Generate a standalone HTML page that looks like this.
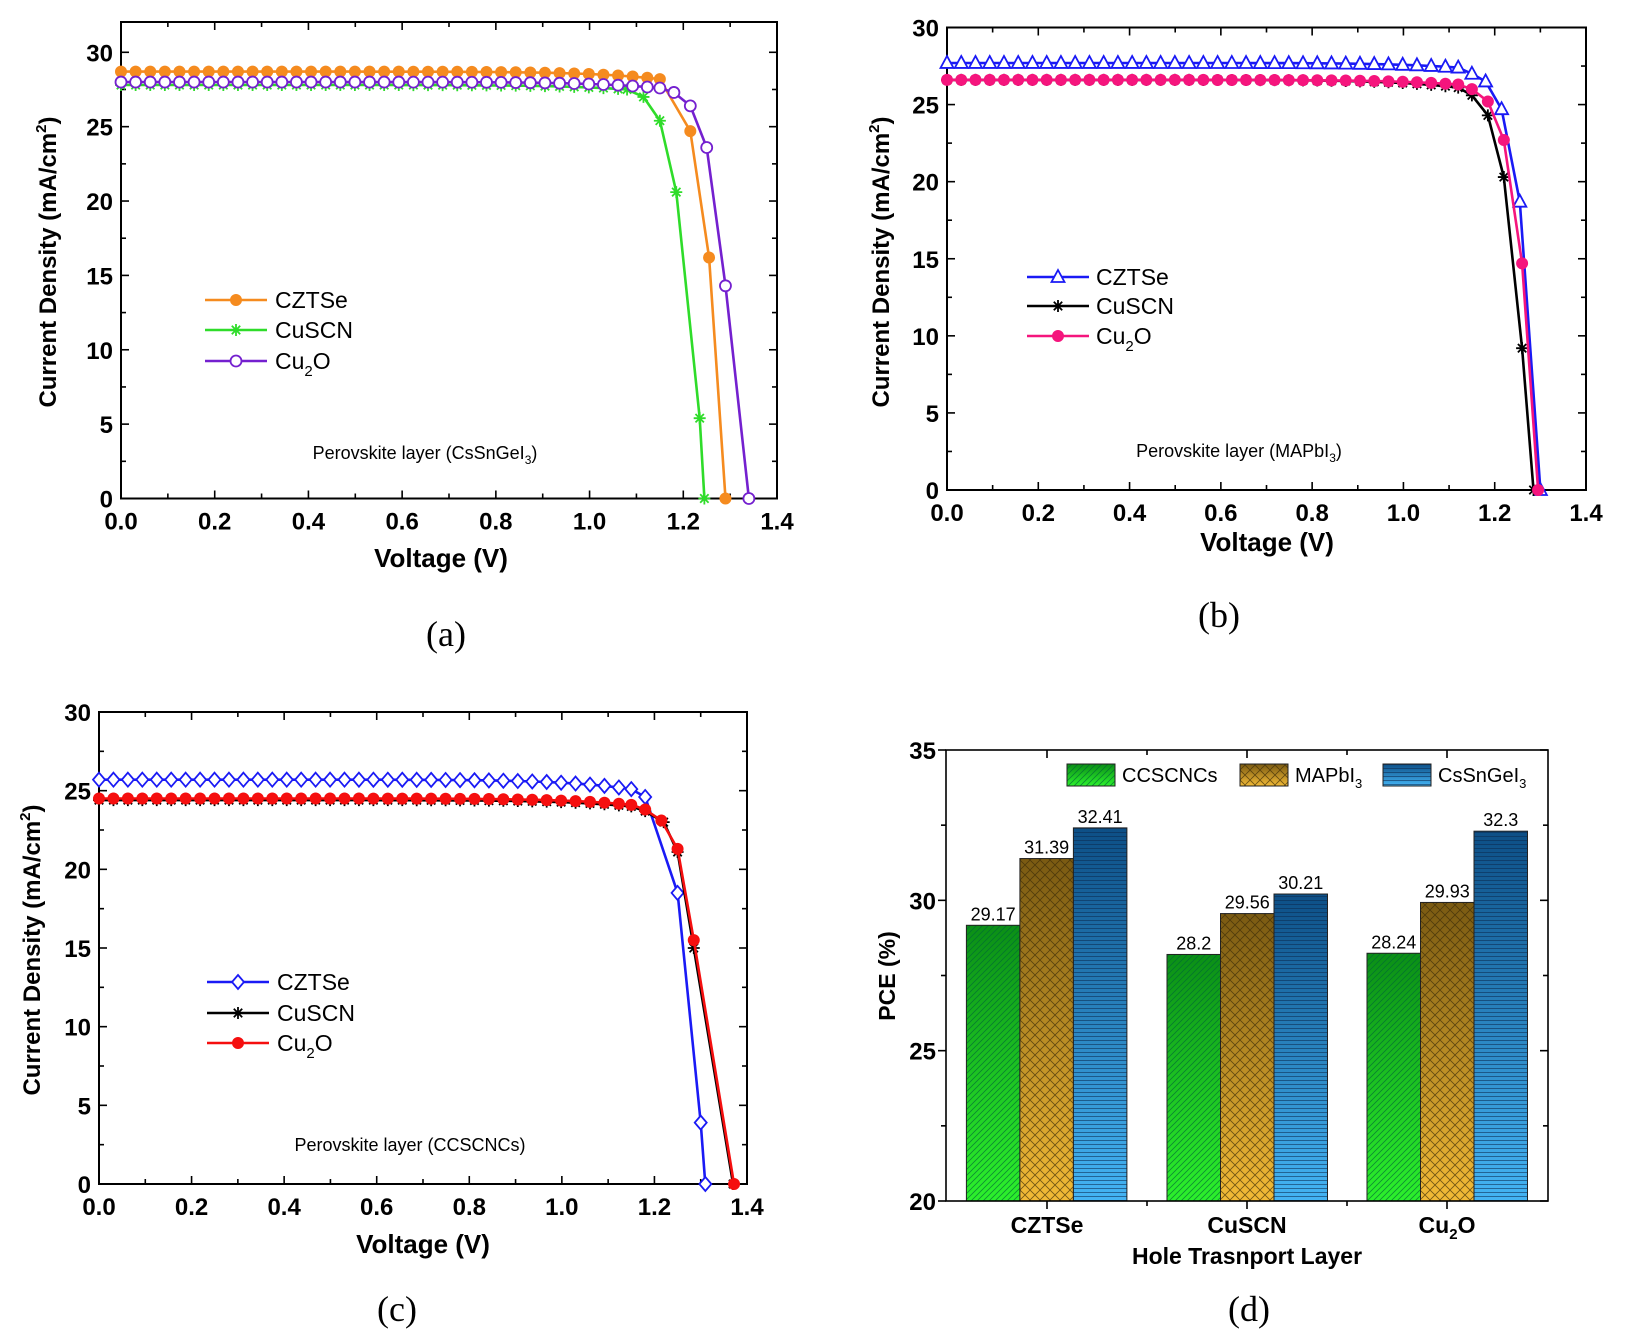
<!DOCTYPE html>
<html><head><meta charset="utf-8">
<style>
html,body{margin:0;padding:0;background:#fff;}
svg{display:block;}
text{font-family:"Liberation Sans",sans-serif;}
.tk{font-size:24px;font-weight:bold;}
.ti{font-size:26px;font-weight:bold;}
.lg{font-size:23px;}
.an{font-size:18px;}
.pl{font-family:"Liberation Serif",serif;font-size:36px;}
</style></head>
<body>
<svg id="s" width="1628" height="1342" viewBox="0 0 1628 1342" xmlns="http://www.w3.org/2000/svg">
<defs>
<linearGradient id="gG" x1="0" y1="0" x2="0" y2="1"><stop offset="0" stop-color="#0b8f16"/><stop offset="1" stop-color="#2cf02c"/></linearGradient>
<linearGradient id="gB" x1="0" y1="0" x2="0" y2="1"><stop offset="0" stop-color="#7a5a12"/><stop offset="1" stop-color="#f2ba36"/></linearGradient>
<linearGradient id="gL" x1="0" y1="0" x2="0" y2="1"><stop offset="0" stop-color="#0d4f86"/><stop offset="1" stop-color="#44b4f4"/></linearGradient>
<pattern id="pD" width="6" height="6" patternUnits="userSpaceOnUse"><path d="M0,6 L6,0 M-1,1 L1,-1 M5,7 L7,5" stroke="#063" stroke-width="0.8" opacity="0.7"/></pattern>
<pattern id="pX" width="10" height="10" patternUnits="userSpaceOnUse"><path d="M0,0 L10,10 M10,0 L0,10" stroke="#3a2a05" stroke-width="0.8" opacity="0.7"/></pattern>
<pattern id="pH" width="6" height="4" patternUnits="userSpaceOnUse"><path d="M0,0.5 L6,0.5" stroke="#0a2a50" stroke-width="0.8" opacity="0.7"/></pattern>
</defs>
<g id="g"></g>
<text class="pl" x="446" y="646" text-anchor="middle">(a)</text>
<text class="pl" x="1219" y="627" text-anchor="middle">(b)</text>
<text class="pl" x="397" y="1321" text-anchor="middle">(c)</text>
<text class="pl" x="1249" y="1321" text-anchor="middle">(d)</text>
</svg>
<script>
var G=document.getElementById('g'),h='';
function panel(P){
 var L=P.l,R=P.r,T=P.top,y0=P.y0,y30=P.y30;
 var X=function(v){return L+(R-L)*v/1.4;},Y=function(j){return y0+(y30-y0)*j/30;};
 h+='<rect x="'+L+'" y="'+T+'" width="'+(R-L)+'" height="'+(y0-T)+'" fill="none" stroke="#000" stroke-width="2"/>';
 for(var i=0;i<=14;i++){var x=X(i*0.1),len=i%2?5:8;
  h+='<line x1="'+x+'" y1="'+y0+'" x2="'+x+'" y2="'+(y0-len)+'" stroke="#000" stroke-width="1.6"/>';
  h+='<line x1="'+x+'" y1="'+T+'" x2="'+x+'" y2="'+(T+len)+'" stroke="#000" stroke-width="1.6"/>';
  if(i%2==0) h+='<text class="tk" x="'+x+'" y="'+(y0+31)+'" text-anchor="middle">'+(i/10).toFixed(1)+'</text>';}
 for(var j=0;j<=30;j+=2.5){var y=Y(j),len=(j%5)?5:8;if(y<T-1)continue;
  h+='<line x1="'+L+'" y1="'+y+'" x2="'+(L+len)+'" y2="'+y+'" stroke="#000" stroke-width="1.6"/>';
  h+='<line x1="'+R+'" y1="'+y+'" x2="'+(R-len)+'" y2="'+y+'" stroke="#000" stroke-width="1.6"/>';
  if(j%5==0) h+='<text class="tk" x="'+(L-8)+'" y="'+(y+9)+'" text-anchor="end">'+j+'</text>';}
 h+='<text class="ti" x="'+P.xt[0]+'" y="'+P.xt[1]+'" text-anchor="middle">Voltage (V)</text>';
 h+='<text class="ti" style="font-size:24px" transform="translate('+P.yt[0]+','+P.yt[1]+') rotate(-90)" text-anchor="middle">Current Density (mA/cm<tspan dy="-10" font-size="15">2</tspan><tspan dy="10">)</tspan></text>';
 h+='<text class="an" x="'+P.an[0]+'" y="'+P.an[1]+'" text-anchor="middle">'+P.ant+'</text>';
 P.s.forEach(function(s,k){
  var tail=s.t,v1=tail[0][0],j1=tail[0][1],pts=[];
  for(var v=0;v<v1-0.018;v+=0.0312){pts.push([v,s.j-(s.j-j1)*Math.pow(v/v1,8)]);}
  pts=pts.concat(tail);
  var d=pts.map(function(p,i){return (i?'L':'M')+X(p[0]).toFixed(1)+','+Y(p[1]).toFixed(1);}).join('');
  h+='<path d="'+d+'" fill="none" stroke="'+s.c+'" stroke-width="2.6"/>';
  pts.forEach(function(p){h+=marker(s.m,X(p[0]),Y(p[1]),s.c);});
  var ly=P.lg[1][k];
  h+='<line x1="'+P.lg[0]+'" y1="'+ly+'" x2="'+(P.lg[0]+62)+'" y2="'+ly+'" stroke="'+s.c+'" stroke-width="2.6"/>'+marker(s.m,P.lg[0]+31,ly,s.c);
  h+='<text class="lg" x="'+P.lg[2]+'" y="'+(ly+8)+'">'+s.n+'</text>';
 });
}
function marker(m,x,y,c){
 if(m=='fc')return '<circle cx="'+x+'" cy="'+y+'" r="5.5" fill="'+c+'" stroke="'+c+'" stroke-width="1"/>';
 if(m=='oc')return '<circle cx="'+x+'" cy="'+y+'" r="5.5" fill="#fff" stroke="'+c+'" stroke-width="1.8"/>';
 if(m=='tr')return '<path d="M'+x+','+(y-7)+'L'+(x+6.5)+','+(y+5)+'L'+(x-6.5)+','+(y+5)+'Z" fill="#fff" stroke="'+c+'" stroke-width="1.8"/>';
 if(m=='di')return '<path d="M'+x+','+(y-7)+'L'+(x+6)+','+y+'L'+x+','+(y+7)+'L'+(x-6)+','+y+'Z" fill="#fff" stroke="'+c+'" stroke-width="1.8"/>';
 var r=6,q=4.2;return '<path d="M'+(x-r)+','+y+'L'+(x+r)+','+y+'M'+x+','+(y-r)+'L'+x+','+(y+r)+'M'+(x-q)+','+(y-q)+'L'+(x+q)+','+(y+q)+'M'+(x-q)+','+(y+q)+'L'+(x+q)+','+(y-q)+'" stroke="'+c+'" stroke-width="1.8"/>';
}
var CU='Cu<tspan dy="7" font-size="15">2</tspan><tspan dy="-7">O</tspan>';
panel({l:121,r:777,top:22,y0:498.5,y30:52.3,xt:[441,567],yt:[56,262],an:[425,459],ant:'Perovskite layer (CsSnGeI<tspan dy="5" font-size="12">3</tspan><tspan dy="-5">)</tspan>',
 lg:[205,[300,330,361],275],
 s:[{n:'CZTSe',j:28.7,c:'#f58b1f',m:'fc',t:[[1.15,28.2],[1.215,24.7],[1.255,16.2],[1.29,0]]},
    {n:'CuSCN',j:27.8,c:'#2fdc2a',m:'as',t:[[1.08,27.5],[1.115,27.0],[1.15,25.4],[1.185,20.6],[1.235,5.4],[1.245,0]]},
    {n:CU,j:28.0,c:'#7420cf',m:'oc',t:[[1.15,27.6],[1.18,27.3],[1.215,26.4],[1.25,23.6],[1.29,14.3],[1.34,0]]}]});
panel({l:947,r:1586,top:27.5,y0:490,y30:27.5,xt:[1267,551],yt:[889,262],an:[1239,457],ant:'Perovskite layer (MAPbI<tspan dy="5" font-size="12">3</tspan><tspan dy="-5">)</tspan>',
 lg:[1027,[277,306,336],1096],
 s:[{n:'CZTSe',j:27.7,c:'#1a1af5',m:'tr',t:[[1.12,27.4],[1.15,27.0],[1.18,26.5],[1.215,24.7],[1.255,18.7],[1.30,0]]},
    {n:'CuSCN',j:26.6,c:'#000',m:'as',t:[[1.12,26.1],[1.15,25.6],[1.185,24.3],[1.22,20.3],[1.26,9.2],[1.285,0]]},
    {n:CU,j:26.6,c:'#f5157d',m:'fc',t:[[1.12,26.3],[1.15,26.0],[1.185,25.2],[1.22,22.7],[1.26,14.7],[1.295,0]]}]});
panel({l:99,r:747,top:712,y0:1184,y30:712,xt:[423,1253],yt:[40,950],an:[410,1151],ant:'Perovskite layer (CCSCNCs)',
 lg:[207,[982,1013,1043],277],
 s:[{n:'CZTSe',j:25.7,c:'#1a1af5',m:'di',t:[[1.15,25.1],[1.18,24.6],[1.25,18.5],[1.30,3.9],[1.31,0]]},
    {n:'CuSCN',j:24.4,c:'#000',m:'as',t:[[1.15,24.0],[1.18,23.7],[1.22,23.0],[1.25,21.1],[1.285,15.0],[1.37,0]]},
    {n:CU,j:24.5,c:'#f50f0f',m:'fc',t:[[1.15,24.1],[1.18,23.8],[1.215,23.1],[1.25,21.3],[1.285,15.5],[1.372,0]]}]});
(function(){
 var L=946,R=1548,T=750,B=1201,Y=function(v){return B+(T-B)*(v-20)/15;};
 var grp=[[966.4,[29.17,31.39,32.41]],[1167,[28.2,29.56,30.21]],[1367,[28.24,29.93,32.3]]],w=53.5;
 var fills=[['gG','pD'],['gB','pX'],['gL','pH']];
 grp.forEach(function(g){g[1].forEach(function(v,k){var x=g[0]+k*w,y=Y(v);
  h+='<rect x="'+x+'" y="'+y+'" width="'+w+'" height="'+(B-y)+'" fill="url(#'+fills[k][0]+')"/>';
  h+='<rect x="'+x+'" y="'+y+'" width="'+w+'" height="'+(B-y)+'" fill="url(#'+fills[k][1]+')" stroke="#222" stroke-width="1"/>';
  h+='<text x="'+(x+w/2)+'" y="'+(y-5)+'" text-anchor="middle" font-size="18">'+v+'</text>';});});
 h+='<rect x="'+L+'" y="'+T+'" width="'+(R-L)+'" height="'+(B-T)+'" fill="none" stroke="#000" stroke-width="1.6"/>';
 for(var v=20;v<=35;v+=2.5){var y=Y(v),len=(v%5)?5:8;
  h+='<line x1="'+L+'" y1="'+y+'" x2="'+(L-len)+'" y2="'+y+'" stroke="#000" stroke-width="1.6"/><line x1="'+R+'" y1="'+y+'" x2="'+(R-len)+'" y2="'+y+'" stroke="#000" stroke-width="1.6"/>';
  if(v%5==0)h+='<text class="tk" x="'+(L-10)+'" y="'+(y+9)+'" text-anchor="end">'+v+'</text>';}
 [1047,1247,1447].forEach(function(x){h+='<line x1="'+x+'" y1="'+B+'" x2="'+x+'" y2="'+(B+8)+'" stroke="#000" stroke-width="1.6"/><line x1="'+x+'" y1="'+T+'" x2="'+x+'" y2="'+(T+8)+'" stroke="#000" stroke-width="1.6"/>';});
 [1147,1347].forEach(function(x){h+='<line x1="'+x+'" y1="'+B+'" x2="'+x+'" y2="'+(B+5)+'" stroke="#000" stroke-width="1.6"/><line x1="'+x+'" y1="'+T+'" x2="'+x+'" y2="'+(T+5)+'" stroke="#000" stroke-width="1.6"/>';});
 h+='<text class="ti" style="font-size:23px" x="1047" y="1233" text-anchor="middle">CZTSe</text><text class="ti" style="font-size:23px" x="1247" y="1233" text-anchor="middle">CuSCN</text><text class="ti" style="font-size:23px" x="1447" y="1233" text-anchor="middle">Cu<tspan dy="6" font-size="15">2</tspan><tspan dy="-6">O</tspan></text>';
 h+='<text class="ti" style="font-size:23px" x="1247" y="1264" text-anchor="middle">Hole Trasnport Layer</text>';
 h+='<text class="ti" style="font-size:23px" transform="translate(895,976) rotate(-90)" text-anchor="middle">PCE (%)</text>';
 var lgd=[[1067,'CCSCNCs'],[1240,'MAPbI<tspan dy="6" font-size="13">3</tspan>'],[1383,'CsSnGeI<tspan dy="6" font-size="13">3</tspan>']];
 lgd.forEach(function(l,k){h+='<rect x="'+l[0]+'" y="764" width="48" height="22" fill="url(#'+fills[k][0]+')"/><rect x="'+l[0]+'" y="764" width="48" height="22" fill="url(#'+fills[k][1]+')" stroke="#222" stroke-width="1"/>';
  h+='<text x="'+(l[0]+55)+'" y="782" font-size="20">'+l[1]+'</text>';});
})();
G.innerHTML=h;
</script>
</body></html>
